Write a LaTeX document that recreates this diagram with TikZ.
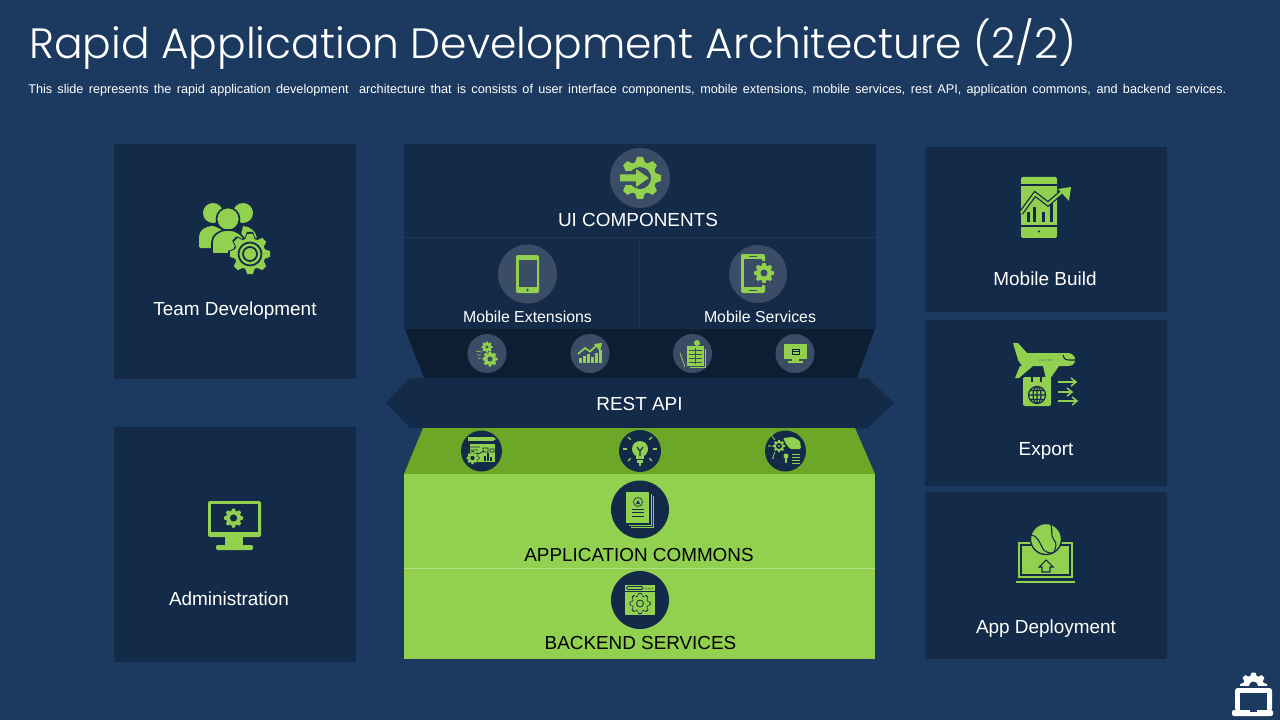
\documentclass[tikz,border=0pt]{standalone}
\usepackage{fontspec}
\setmainfont{Liberation Sans}
\newfontfamily\titlefont{Poppins Light}
\definecolor{bgc}{HTML}{1C3A60}
\definecolor{panel}{HTML}{132B48}
\definecolor{darkp}{HTML}{0E1E32}
\definecolor{gr}{HTML}{92D050}
\definecolor{dgr}{HTML}{6DA727}
\definecolor{circ}{HTML}{3A4C66}
\definecolor{lnc}{HTML}{1E3A5A}
\tikzset{
  lab/.style={text=white,inner sep=0pt,font=\fontsize{14.2}{16}\selectfont},
  capl/.style={text=white,inner sep=0pt,font=\fontsize{14.2}{18}\selectfont},
  subl/.style={text=white,inner sep=0pt,font=\fontsize{11.9}{15}\selectfont},
  blk/.style={text=black,inner sep=0pt,font=\fontsize{14.15}{18}\selectfont},
}
\newcommand{\mygear}[5]{%
  \begin{scope}[shift={(#1,#2)}]
    \fill[#5] (0,0) circle ({0.78*#3});
    \pgfmathsetmacro{\gst}{360/#4}
    \foreach \gi in {1,...,#4}{\fill[#5,rotate={\gi*\gst}] ({-0.25*#3},{0.7*#3}) -- ({-0.14*#3},{#3}) -- ({0.14*#3},{#3}) -- ({0.25*#3},{0.7*#3}) -- cycle;}
  \end{scope}}
\newcommand{\myphone}[5]{% x1 y1 x2 y2 colour
  \fill[#5,rounded corners=1.5pt] (#1,#2) rectangle (#3,#4);}
\begin{document}
\begin{tikzpicture}[x=.75pt,y=-.75pt]
\useasboundingbox (0,0) rectangle (1280,720);
\fill[bgc] (0,0) rectangle (1280,720);
% title
\node[anchor=west,text=white,inner sep=0pt,font=\titlefont\fontsize{31.8}{40}\selectfont] (title) at (29,44) {Rapid Application Development Architecture (2/2)};
\node[anchor=west,text=white,inner sep=0pt,font=\fontsize{9.5}{11}\selectfont] (sub) at (28,90.5) {\hbox to 898.5pt{This slide represents the rapid application development\ \ architecture that is consists of user interface components, mobile extensions, mobile services, rest API, application commons, and backend services.}};
% panels
\fill[panel] (114,144) rectangle (356,379);
\fill[panel] (114,427) rectangle (356,662);
\fill[panel] (925,147) rectangle (1167,312);
\fill[panel] (925,320) rectangle (1167,486);
\fill[panel] (925,492) rectangle (1167,659);
\fill[panel] (404,144) rectangle (876,329);
\draw[lnc,line width=.6pt] (404,237.5) -- (876,237.5);
\draw[lnc,line width=.6pt] (639.5,237.5) -- (639.5,328);
\fill[darkp] (405,329) -- (875,329) -- (857,378) -- (424,378) -- cycle;
\fill[panel] (386,403) -- (410,378) -- (868,378) -- (894,403) -- (868,428) -- (410,428) -- cycle;
\fill[dgr] (423,428) -- (855,428) -- (875,474) -- (404,474) -- cycle;
\fill[gr] (404,474) rectangle (875,659);
\draw[gr!70!white,line width=.5pt] (404,568.5) -- (875,568.5);
% circles
\fill[circ] (640,178) circle (30);
\fill[circ] (527.5,274) circle (29.5);
\fill[circ] (758,274) circle (29);
\foreach \cx in {487,590,692.5,795}{\fill[circ] (\cx,353.5) circle (19.5);}
\fill[panel] (481.5,451) circle (20.5);
\fill[panel] (640,451) circle (21);
\fill[panel] (785.5,451) circle (20.5);
\fill[panel] (640,509.5) circle (29);
\fill[panel] (640,600) circle (29);
% labels
\node[lab] (team) at (235,310.5) {Team Development};
\node[lab] (admin) at (229,598.5) {Administration};
\node[lab] (mbuild) at (1045,278.5) {Mobile Build};
\node[lab] (export) at (1046,450.5) {Export};
\node[lab] (deploy) at (1046,629) {App Deployment};
\node[capl] (ui) at (638,220) {UI COMPONENTS};
\node[subl] (mext) at (527.5,317) {Mobile Extensions};
\node[subl] (msrv) at (760,317) {Mobile Services};
\node[capl] (rest) at (639.5,404) {REST API};
\node[blk] (comm) at (639,555) {APPLICATION COMMONS};
\node[blk] (back) at (640.5,643) {BACKEND SERVICES};
% UI gear icon
\mygear{640}{178}{21}{8}{gr}
\fill[circ] (640,178) circle (11);
\fill[circ] (619,171) rectangle (632,185);
\fill[gr] (620,174.5) -- (636,174.5) -- (636,169) -- (649,178) -- (636,187) -- (636,181.5) -- (620,181.5) -- cycle;
% Mobile extension
\myphone{516}{255}{539}{293}{gr}
\fill[circ] (518.5,260) rectangle (536.5,287);
\fill[circ] (527.5,290) circle (1.4);
% Mobile services
\myphone{741}{254}{765}{293}{gr}
\fill[circ] (744,259) rectangle (762,287);
\fill[circ] (749,256) rectangle (757,257.3);
\fill[circ] (749,289.5) rectangle (757,290.7);
\mygear{764}{273}{12}{8}{circ}
\mygear{764}{273}{10}{8}{gr}
\fill[circ] (764,273) circle (3.5);
% small icons row
\mygear{487}{347}{5.5}{8}{gr}\fill[circ] (487,347) circle (1.7);
\mygear{490}{359}{7.5}{8}{gr}\fill[circ] (490,359) circle (2.5);
\draw[gr,line width=.5pt] (476,351) -- (482,352) (477,355) -- (481,355) (478,359) -- (481,358);
% chart icon
\foreach \bx/\bt in {579/358,583/356,587/354,591/357,595/353,599/350}{\fill[gr] (\bx,\bt) rectangle ++(3,{363-\bt});}
\draw[circ,line width=2.6pt] (578,354) -- (585,348) -- (590,351.5) -- (597,345);
\draw[gr,line width=1.3pt] (578,354) -- (585,348) -- (590,351.5) -- (597,345);
\fill[gr] (602,343) -- (594,344) -- (600,351) -- cycle;
% clipboard icon
\fill[gr] (687,346) rectangle (704,366);
\fill[gr] (697,343) circle (3);
\foreach \ly in {350,354,358,362}{\draw[circ,line width=.6pt] (689,\ly) -- (702,\ly);}
\draw[circ,line width=.5pt] (695,348) -- (695,364);
\draw[gr,line width=.5pt] (705.5,349) -- (705.5,367.5) -- (690,367.5);
\draw[gr,line width=.6pt] (680,353) -- (685,367);
% monitor small
\fill[gr] (784,344) rectangle (807,359);
\fill[gr] (792,359) rectangle (799,361);
\fill[gr] (788,361) rectangle (803,363);
\draw[darkp,line width=.5pt] (792,349) rectangle (799,354) (792,351.5) -- (799,351.5);
% green row icons
\fill[gr] (468,437) rectangle (493,441);
\fill[gr] (493,437) -- (496,439) -- (493,441) -- cycle;
\fill[gr] (470,444) rectangle (495,462);
\draw[panel,line width=.6pt] (470,447) -- (480,447) (470,450) -- (478,450) (483,448) rectangle (488,452) (490,449) rectangle (494,452) (478,454) -- (484,451);
\foreach \bx/\bt in {484/456,487/453,490/457}{\fill[panel] (\bx,\bt) rectangle ++(1.5,{461-\bt});}
\mygear{472.5}{458}{7}{8}{panel}\mygear{472.5}{458}{6}{8}{gr}\fill[panel] (472.5,458) circle (2.2);
% bulb
\fill[gr] (640,449) circle (8);
\fill[gr] (636,455) rectangle (644,459);
\fill[gr] (637,460) rectangle (643,463);
\draw[panel,line width=.8pt] (640,456) -- (640,451) (637,447) -- (640,451) -- (643,447);
\foreach \a in {0,45,135,180,225,270,315}{\draw[gr,line width=1pt,shift={(640,449)},rotate=\a] (13,0) -- (17,0);}
% gear hand
\mygear{779}{446}{6}{8}{gr}\fill[panel] (779,446) circle (3);\fill[gr] (779,446) circle (1.2);
\fill[gr,rounded corners=1pt] (783,438) -- (793,437) -- (800,441) -- (801,449) -- (790,449) -- (786,444) -- cycle;
\draw[gr,line width=.6pt] (773,446) -- (770,446) (775,440) -- (772,436) (775,452) -- (773,457);
\fill[gr] (772,434.5) circle (1);\fill[gr] (769,446) circle (1);\fill[gr] (773,458) circle (1);
\fill[gr] (786,456) circle (2.5);\fill[gr] (785,458) rectangle (787,463);
\foreach \ly in {454,457,460,463}{\draw[gr,line width=.7pt] (792,\ly) -- (800,\ly);}
% document stack
\draw[gr,line width=.6pt] (651,494) -- (651,525) -- (629,525);
\draw[gr,line width=.6pt] (653.5,496) -- (653.5,527) -- (631,527);
\fill[gr] (626,492) rectangle (649,523);
\draw[panel,line width=.5pt] (638,502) circle (4.5);
\fill[panel] (636,504) -- (638,500) -- (640,504) -- cycle;
\foreach \ly in {509,512,516}{\draw[panel,line width=.6pt] (632,\ly) -- (644,\ly);}
% backend window
\fill[gr] (625,585) rectangle (655,615);
\draw[panel,line width=.6pt] (625,591) -- (655,591);
\draw[panel,line width=.6pt,rounded corners=1pt] (626.5,586.5) rectangle (643,589.5);
\foreach \dx in {646,649,652}{\fill[panel] (\dx,588.5) circle (.7);}
\mygear{640}{603.5}{10.5}{8}{panel}\mygear{640}{603.5}{9.3}{8}{gr}
\draw[panel,line width=.6pt] (640,603.5) circle (3.5);
% team icon
\fill[gr] (213,213) circle (10);
\fill[gr] (243,213) circle (10);
\fill[gr,rounded corners=1pt] (199,248) -- (199,238) .. controls (199,230) and (206,226) .. (214,226) -- (226,232) -- (222,248) -- cycle;
\fill[gr] (243,226) .. controls (250,226) and (257,232) .. (257,240) -- (240,240) -- cycle;
\filldraw[fill=gr,draw=panel,line width=1.2pt] (228,219) circle (11.5);
\filldraw[fill=gr,draw=panel,line width=1.2pt,rounded corners=1pt] (212,254) -- (212,243) .. controls (212,235) and (220,230) .. (228,230) .. controls (236,230) and (244,235) .. (245,243) -- (245,254) -- cycle;
\mygear{250}{254}{22}{8}{panel}
\mygear{250}{254}{20}{8}{gr}
\draw[panel,line width=1.3pt] (250,254) circle (11.5);
\draw[panel,line width=1.3pt] (250,254) circle (7);
% admin icon
\fill[gr,rounded corners=1.5pt] (208,501) rectangle (261,537);
\fill[panel] (211,504) rectangle (258,532);
\fill[gr] (225,537) rectangle (243,545);
\fill[gr,rounded corners=1pt] (216,545) rectangle (253,550);
\mygear{233.5}{518}{9.5}{8}{gr}
\fill[panel] (233.5,518) circle (3.6);
% mobile build icon
\fill[gr,rounded corners=1.5pt] (1021,177) rectangle (1057,238);
\draw[panel,line width=1pt] (1021,185) -- (1057,185) (1021,226) -- (1057,226);
\fill[panel] (1039,231.5) circle (1.2);
\foreach \bx/\bt in {1027/212,1033/207,1042/212,1050/203}{\fill[panel] (\bx,\bt) rectangle ++(2.8,{222-\bt});}
\draw[panel,line width=3.6pt] (1021,213) -- (1035,194) -- (1048,204) -- (1062,192);
\draw[gr,line width=1.7pt] (1021,213) -- (1035,194) -- (1048,204) -- (1062,192);
\fill[gr] (1071,187) -- (1058,189) -- (1069,201) -- cycle;
% export icon
\fill[gr] (1013,343) -- (1018,343) -- (1027,353) -- (1068,353) .. controls (1072,353) and (1076,357) .. (1075,360) .. controls (1075,364) and (1072,366) .. (1068,366) -- (1022,366) -- (1018,360) -- cycle;
\fill[gr] (1020,366) -- (1033,366) -- (1019,378) -- (1015,378) -- cycle;
\fill[gr] (1043,366) -- (1059,366) -- (1050,379) -- (1046,379) -- cycle;
\foreach \dx in {1040,1043,1046,1049,1052}{\fill[panel] (\dx,360) circle (.6);}
\draw[panel,line width=.8pt] (1063,355) .. controls (1063,358) and (1065,360) .. (1069,360) -- (1075,360);
\fill[gr,rounded corners=1.5pt] (1023,377) rectangle (1051,406);
\fill[panel] (1031,377) rectangle (1033,382);
\fill[panel] (1040,377) rectangle (1042,382);
\draw[panel,line width=.9pt] (1037,395) circle (8.5) (1028.5,395) -- (1045.5,395) (1037,386.5) -- (1037,403.5) (1030,390.5) -- (1044,390.5) (1030,399.5) -- (1044,399.5);
\draw[panel,line width=.9pt] (1037,395) ellipse (4 and 8.5);
\foreach \ay/\ax in {382/1076,392/1072,401/1077}{
  \draw[gr,line width=1.1pt] (1058,\ay) -- (\ax,\ay);
  \draw[gr,line width=1.1pt] ({\ax-5},{\ay-4}) -- (\ax,\ay) -- ({\ax-5},{\ay+4});}
% deploy icon
\fill[gr] (1018,542) rectangle (1073,578);
\draw[panel,line width=1pt] (1021,545) rectangle (1070,575);
\fill[gr] (1016,581) rectangle (1075,583);
\filldraw[fill=gr,draw=panel,line width=1pt] (1046,539) circle (15.5);
\draw[panel,line width=.8pt] (1031,535) .. controls (1037,535) and (1040,543) .. (1043,549) .. controls (1045,552) and (1049,553) .. (1052,553);
\draw[panel,line width=.8pt] (1051,525) .. controls (1053,531) and (1050,535) .. (1054,540) .. controls (1057,543) and (1056,547) .. (1054,552);
\draw[panel,line width=.8pt] (1046,560) -- (1053,567) -- (1050,567) -- (1050,572) -- (1042,572) -- (1042,567) -- (1039,567) -- cycle;
% corner icon
\mygear{1253.5}{686}{13.5}{8}{white}
\fill[bgc] (1230,686) rectangle (1280,700);
\fill[bgc] (1253.5,686) circle (4.5);
\fill[white,rounded corners=2pt] (1235,688) rectangle (1272,711);
\fill[bgc] (1240,693) rectangle (1267,710);
\fill[white,rounded corners=1.5pt] (1232,710) rectangle (1273,716);
\fill[bgc] (1250,710) rectangle (1257,711.5);
\end{tikzpicture}
\end{document}
